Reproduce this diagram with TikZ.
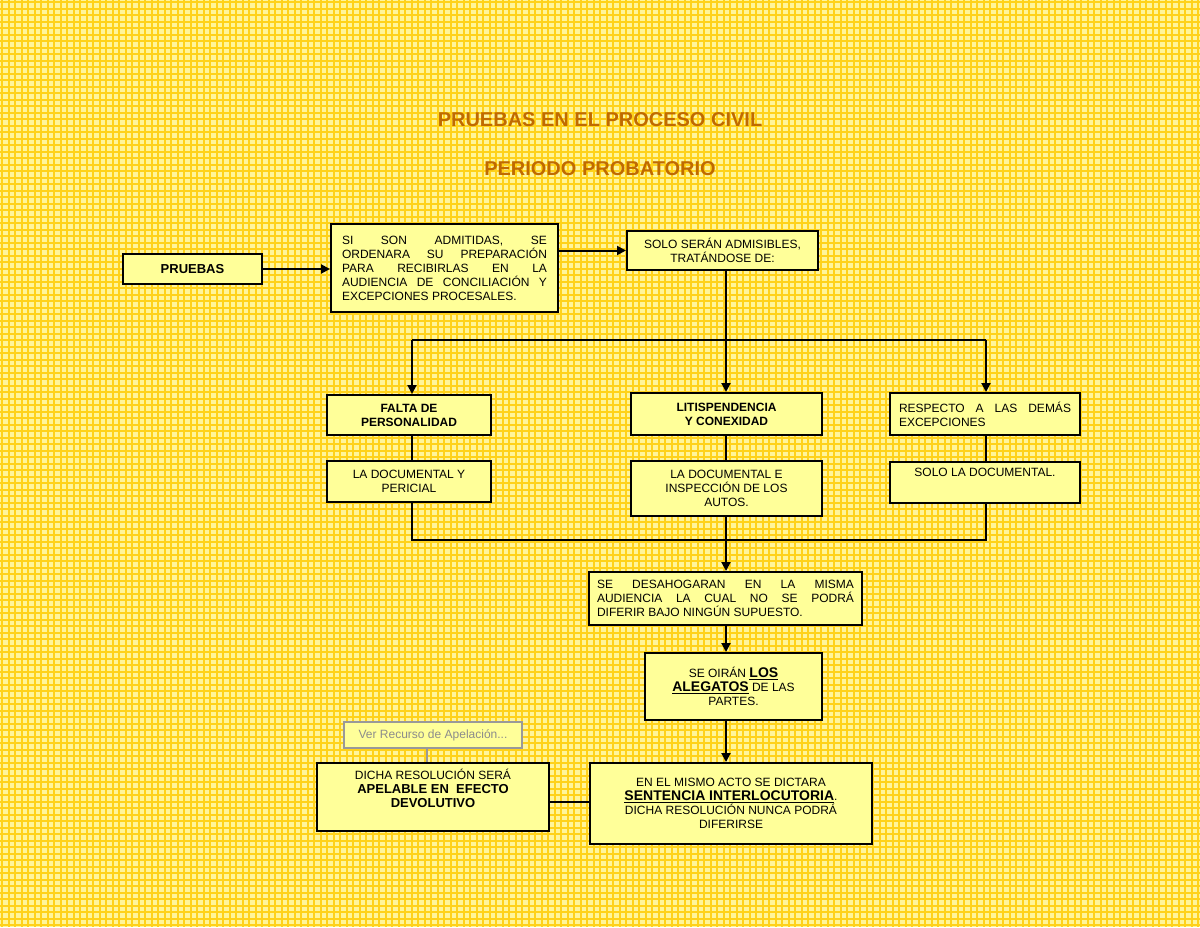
\documentclass[tikz,border=0pt]{standalone}
\usepackage{fontspec}
\setmainfont{Liberation Sans}
\usetikzlibrary{arrows.meta}
\definecolor{bgy}{HTML}{FFF59A}
\definecolor{gridy}{HTML}{FFD21A}
\definecolor{boxy}{HTML}{FFFF99}
\definecolor{titc}{HTML}{C06A00}
\newcommand{\jl}[1]{\makebox[205pt][s]{#1}}
\tikzset{
 bx/.style={draw=black,line width=2pt,fill=boxy,inner sep=3pt,font=\fontsize{12}{14}\selectfont,align=center},
 ln/.style={line width=2pt},
 ar/.style={line width=2pt,-{Triangle[length=9pt,width=9pt]}},
}
\begin{document}
\begin{tikzpicture}[x=1pt,y=-1pt]
\useasboundingbox (0,0) rectangle (1200,927);
\begin{scope}
\clip (0,0) rectangle (1200,927);
\fill[bgy] (0,0) rectangle (1200,927);
\foreach \i in {0,...,185}{\draw[gridy,line width=2pt] (\i*6.5+2,0) -- (\i*6.5+2,927);}
\foreach \i in {0,...,143}{\draw[gridy,line width=2pt] (0,\i*6.5+2) -- (1200,\i*6.5+2);}
\end{scope}
\node[font=\bfseries\fontsize{20}{22}\selectfont,text=titc] (t1) at (600,120) {PRUEBAS EN EL PROCESO CIVIL};
\node[font=\bfseries\fontsize{20}{22}\selectfont,text=titc] (t2) at (600,169) {PERIODO PROBATORIO};
\node[bx,minimum width=139,minimum height=30,font=\bfseries\fontsize{13}{15}\selectfont] (pr) at (192.5,269) {PRUEBAS};
\node[bx,minimum width=227,minimum height=88,align=left] (si) at (444.5,268) {\jl{SI SON ADMITIDAS, SE}\\\jl{ORDENARA SU PREPARACIÓN}\\\jl{PARA RECIBIRLAS EN LA}\\\jl{AUDIENCIA DE CONCILIACIÓN Y}\\EXCEPCIONES PROCESALES.};
\node[bx,minimum width=191,minimum height=39] (so) at (722.5,250.5) {SOLO SERÁN ADMISIBLES,\\TRATÁNDOSE DE:};
\node[bx,minimum width=164,minimum height=40,font=\bfseries\fontsize{12}{14}\selectfont] (fa) at (409,415) {FALTA DE\\PERSONALIDAD};
\node[bx,minimum width=191,minimum height=42,font=\bfseries\fontsize{12}{14}\selectfont] (li) at (726.5,414) {LITISPENDENCIA\\Y CONEXIDAD};
\node[bx,minimum width=190,minimum height=42,align=left] (re) at (985,414) {\makebox[172pt][s]{RESPECTO A LAS DEMÁS}\\EXCEPCIONES};
\node[bx,minimum width=164,minimum height=41] (d1) at (409,481.5) {LA DOCUMENTAL Y\\PERICIAL};
\node[bx,minimum width=191,minimum height=55] (d2) at (726.5,488.5) {LA DOCUMENTAL E\\INSPECCIÓN DE LOS\\AUTOS.};
\node[bx,minimum width=190,minimum height=41,anchor=north] (d3) at (985,461) {SOLO LA DOCUMENTAL.\\[6pt]};
\node[bx,minimum width=273,minimum height=53,align=left] (se) at (725.5,598.5) {\makebox[257pt][s]{SE DESAHOGARAN EN LA MISMA}\\\makebox[257pt][s]{AUDIENCIA LA CUAL NO SE PODRÁ}\\DIFERIR BAJO NINGÚN SUPUESTO.};
\node[bx,minimum width=177,minimum height=67] (oi) at (733.5,686.5) {SE OIRÁN \textbf{\underline{\fontsize{14}{16}\selectfont LOS}}\\\textbf{\underline{\fontsize{14}{16}\selectfont ALEGATOS}} DE LAS\\PARTES.};
\node[draw=gray!80,line width=1.5pt,fill=boxy,minimum width=178,minimum height=26,text=gray!90,font=\fontsize{12}{14}\selectfont] (ve) at (433,735) {Ver Recurso de Apelación...};
\node[bx,minimum width=232,minimum height=68,anchor=north] (di) at (433,762) {DICHA RESOLUCIÓN SERÁ\\\textbf{\fontsize{13}{15}\selectfont APELABLE EN\ \ EFECTO}\\\textbf{\fontsize{13}{15}\selectfont DEVOLUTIVO}\\[3pt]};
\node[bx,minimum width=282,minimum height=81,anchor=north] (en) at (731,762) {EN EL MISMO ACTO SE DICTARA\\\textbf{\underline{\fontsize{14}{16}\selectfont SENTENCIA INTERLOCUTORIA}}.\\DICHA RESOLUCIÓN NUNCA PODRÁ\\DIFERIRSE};
\draw[ar] (pr) -- (si.west|-pr);
\draw[ar] (si.east|-so) -- (so);
\coordinate (h0) at (726,340);
\coordinate (hl) at (412,340);
\coordinate (hr) at (986,340);
\draw[ln] (so.south-|h0) -- (h0);
\draw[ln] (hl) -- (hr);
\draw[ar] (hl) -- (fa.north-|hl);
\draw[ar] (h0) -- (li.north-|h0);
\draw[ar] (hr) -- (re.north-|hr);
\draw[ln] (fa.south-|hl) -- (d1.north-|hl);
\draw[ln] (li.south-|h0) -- (d2.north-|h0);
\draw[ln] (re.south-|hr) -- (d3.north-|hr);
\coordinate (bl) at (412,540);
\coordinate (br) at (986,540);
\coordinate (b0) at (726,540);
\draw[ln] (d1.south-|bl) -- (bl) -- (br) -- (d3.south-|br);
\draw[ar] (d2.south-|b0) -- (se.north-|b0);
\draw[ar] (se.south-|b0) -- (oi.north-|b0);
\draw[ar] (oi.south-|b0) -- (en.north-|b0);
\draw[ln] (di.east|-0,802) -- (en.west|-0,802);
\draw[gray!80,line width=1.5pt] (ve.south-|427,0) -- (di.north-|427,0);
\end{tikzpicture}
\end{document}
